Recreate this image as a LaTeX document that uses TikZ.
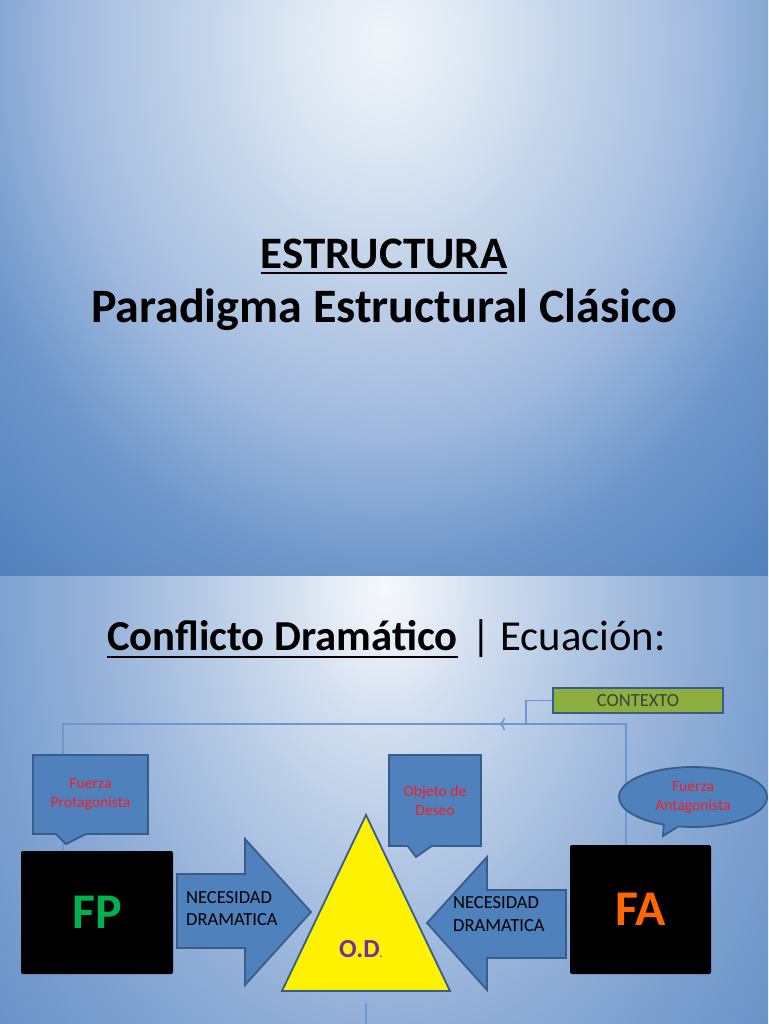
\documentclass[tikz,border=0pt]{standalone}
\usepackage{fontspec}
\setmainfont{Carlito}
\usetikzlibrary{shapes.callouts,arrows.meta}
\definecolor{s1a}{HTML}{F0F4FA}
\definecolor{s1b}{HTML}{DDE7F3}
\definecolor{s1c}{HTML}{C6D6EA}
\definecolor{s1d}{HTML}{B2C7E4}
\definecolor{s1e}{HTML}{A0B9DE}
\definecolor{s1f}{HTML}{86A8D4}
\definecolor{s1g}{HTML}{6E96CA}
\definecolor{s1h}{HTML}{4F7FBC}
\definecolor{s2a}{HTML}{F6F9FC}
\definecolor{s2b}{HTML}{E8EEF7}
\definecolor{s2c}{HTML}{D3DFEF}
\definecolor{s2d}{HTML}{C1D2E9}
\definecolor{s2e}{HTML}{ABC2E1}
\definecolor{s2f}{HTML}{96B2D9}
\definecolor{s2g}{HTML}{7EA2D1}
\definecolor{s2h}{HTML}{6D95C9}
\definecolor{s2i}{HTML}{6790C6}
\definecolor{calfill}{HTML}{4F81BD}
\definecolor{calborder}{HTML}{385D8A}
\definecolor{calltext}{HTML}{F01E28}
\definecolor{connc}{HTML}{6A98D2}
\definecolor{ctxfill}{HTML}{8CAF3F}
\definecolor{ctxtext}{HTML}{3F3F3F}
\definecolor{fpgreen}{HTML}{00B050}
\definecolor{faorange}{HTML}{FF6600}
\definecolor{odpurple}{HTML}{7030A0}
% path radius maps to 25bp
\pgfdeclareradialshading{slideone}{\pgfpoint{0bp}{0bp}}{color(0bp)=(s1a); color(3.8bp)=(s1b); color(7.25bp)=(s1c); color(10.75bp)=(s1d); color(13.5bp)=(s1e); color(16bp)=(s1f); color(18.5bp)=(s1g); color(25bp)=(s1h); color(50bp)=(s1h)}
\pgfdeclareradialshading{slidetwo}{\pgfpoint{0bp}{0bp}}{color(0bp)=(s2a); color(2bp)=(s2b); color(4.25bp)=(s2c); color(6.75bp)=(s2d); color(9.75bp)=(s2e); color(13bp)=(s2f); color(17.25bp)=(s2g); color(21.25bp)=(s2h); color(25bp)=(s2i); color(50bp)=(s2i)}
\tikzset{
  conn/.style={draw=connc, line width=1.5pt},
  bluecall/.style={fill=calfill, draw=calborder, line width=1.8pt, inner sep=0pt,
    text=calltext, font=\fontsize{15.6}{19}\selectfont, align=center},
  blackbox/.style={fill=black, rounded corners=2pt, inner sep=0pt},
  blockarrow/.style={fill=calfill, draw=calborder, line width=1.8pt, line join=miter},
  arrowtext/.style={font=\fontsize{18.5}{22.5}\selectfont, align=left, inner sep=0pt, anchor=west},
  titletext/.style={inner sep=0pt, anchor=base},
}
\begin{document}
\begin{tikzpicture}[x=1pt,y=-1pt]
\useasboundingbox (0,0) rectangle (768,1024);
% backgrounds
\begin{scope}
  \clip (0,0) rectangle (768,576);
  \shade[shading=slideone] (384,40) ellipse [x radius=600pt, y radius=720pt];
\end{scope}
\begin{scope}
  \clip (0,576) rectangle (768,1024);
  \shade[shading=slidetwo] (384,585) ellipse [x radius=560pt, y radius=800pt];
\end{scope}
% slide 1 titles
\node[titletext, font=\fontsize{45}{54}\selectfont\bfseries] (t1) at (384,268) {ESTRUCTURA};
\draw[line width=2.6pt] ([yshift=-5pt]t1.base west) -- ([yshift=-5pt]t1.base east);
\node[titletext, font=\fontsize{48}{57}\selectfont\bfseries] (t2) at (384,322) {Paradigma Estructural Clásico};
% slide 2 title
\node[inner sep=0pt, anchor=base west, font=\fontsize{42.7}{51}\selectfont\bfseries] (t3) at (107,650) {Conflicto Dramático};
\draw[line width=2.6pt] ([yshift=-7pt]t3.base west) -- ([yshift=-7pt]t3.base east);
\node[inner sep=0pt, anchor=base west, font=\fontsize{42.7}{51}\selectfont] (t4) at ([xshift=13pt]t3.base east) {| Ecuación:};
% boxes
\node[blackbox, minimum width=152pt, minimum height=123pt] (fp) at (97,912.5) {};
\node[font=\fontsize{50}{60}\selectfont\bfseries, text=fpgreen, inner sep=0pt] (fplabel) at (fp.center) {FP};
\node[blackbox, minimum width=141pt, minimum height=129pt] (fa) at (640.5,909.5) {};
\node[font=\fontsize{50}{60}\selectfont\bfseries, text=faorange, inner sep=0pt] (falabel) at (fa.center) {FA};
% CONTEXTO
\node[fill=ctxfill, draw=calborder, line width=1.8pt, minimum width=170pt, minimum height=25pt, inner sep=0pt,
  text=ctxtext, font=\fontsize{18.5}{22}\selectfont] (ctx) at (638,700.5) {CONTEXTO};
% connectors
\coordinate (jl) at (63,724);
\coordinate (jr) at (626,724);
\coordinate (jc) at (526,724);
\coordinate (ja) at (499,724);
\draw[conn] (fa.north -| jr) -- (jr) -- (jl) -- (fp.north -| jl);
\draw[conn, -{To[length=6pt,width=13pt]}] (jc) -- (ja);
\draw[conn] (ctx.west) -| (jc);
% callouts
\node[bluecall, rectangle callout, minimum width=115pt, minimum height=79pt,
  callout absolute pointer={(66,844)}, callout pointer width=30pt] (fpcall) at (90.5,794.5) {Fuerza\\Protagonista};
\node[bluecall, rectangle callout, minimum width=92pt, minimum height=91pt,
  callout absolute pointer={(416,857)}, callout pointer width=24pt] (odcall) at (435,800.5) {Objeto de\\Deseo};
\node[bluecall, ellipse callout, minimum width=148pt, minimum height=60pt,
  callout absolute pointer={(663,836)}, callout pointer arc=12] (facall) at (693,797) {Fuerza\\Antagonista};
% block arrows
\path[blockarrow] (177,874) -- (245,874) -- (245,839) -- (311,912) -- (245,985) -- (245,948) -- (177,948) -- cycle;
\node[arrowtext] (nd1) at (186,908.5) {NECESIDAD\\DRAMATICA};
\path[blockarrow] (566,890) -- (487,890) -- (487,857) -- (427,923) -- (487,990) -- (487,958) -- (566,958) -- cycle;
\node[arrowtext] (nd2) at (453,914) {NECESIDAD\\DRAMATICA};
% triangle
\path[fill=yellow, draw=calborder, line width=1.8pt, line join=miter] (366,815) -- (450,991) -- (282,991) -- cycle;
\node[inner sep=0pt, anchor=base west, text=odpurple, font=\fontsize{26}{30}\selectfont\bfseries] (od) at (339,957) {O.D{\fontsize{11}{13}\selectfont .}};
\coordinate (odbot) at (366,1003);
\coordinate (odend) at (366,1024);
\draw[conn] (odbot) -- (odend);
\end{tikzpicture}
\end{document}
